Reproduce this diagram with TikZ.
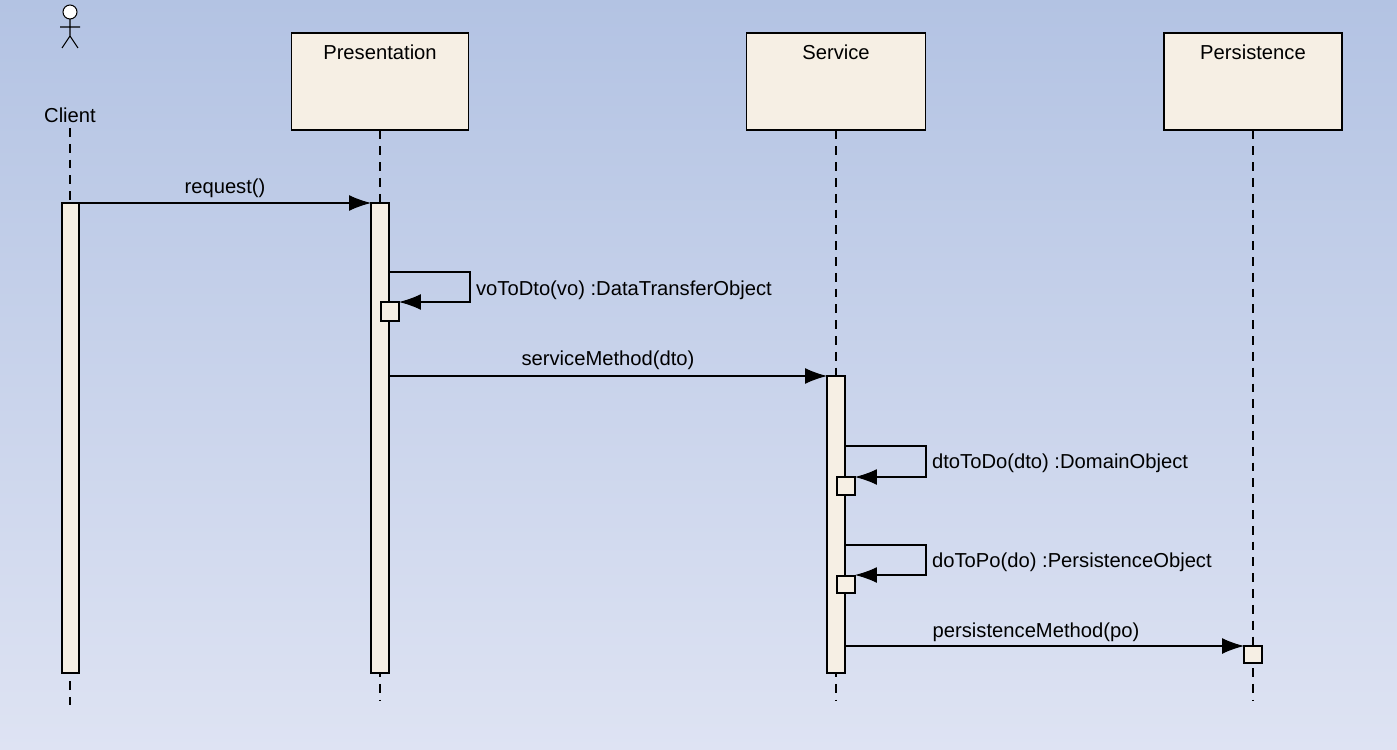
\documentclass[tikz,border=0pt]{standalone}
\usepackage{fontspec}
\setmainfont{Liberation Sans}
\usetikzlibrary{arrows.meta}
\definecolor{bgtop}{HTML}{B3C3E3}
\definecolor{bgbot}{HTML}{DEE3F3}
\definecolor{cream}{HTML}{F6EFE4}
\tikzset{
  lane/.style={draw=black, fill=cream, line width=0.6pt},
  act/.style={draw=black, fill=cream, line width=0.6pt},
  life/.style={dash pattern=on 5pt off 4pt, line width=0.6pt},
  msg/.style={line width=0.6pt, -{Latex[length=12.5pt,width=9pt]}},
  lbl/.style={font=\fontsize{11.5}{13}\selectfont, inner sep=1pt}
}
\begin{document}
\begin{tikzpicture}[x=0.02cm,y=-0.02cm]
\shade[top color=bgtop, bottom color=bgbot] (0,0) rectangle (1397,750);
\useasboundingbox (0,0) rectangle (1397,750);
% client actor
\draw[fill=white, line width=0.6pt] (70,12) circle (7);
\draw[line width=0.6pt] (70,19) -- (70,36) (60,27) -- (80,27) (62,48) -- (70,36) -- (78,48);
\node[lbl] (client) at (70,115) {Client};
% lifelines
\coordinate (c1) at (70,128); \coordinate (c2) at (70,705);
\draw[life] (c1) -- (c2);
\node[lane, minimum width=177*0.02cm, minimum height=97*0.02cm] (pres) at (380,81.5) {};
\node[lbl] at (380,52) {Presentation};
\node[lane, minimum width=179*0.02cm, minimum height=97*0.02cm] (serv) at (836,81.5) {};
\node[lbl] at (836,52) {Service};
\node[lane, minimum width=178*0.02cm, minimum height=97*0.02cm] (pers) at (1253,81.5) {};
\node[lbl] at (1253,52) {Persistence};
\coordinate (p2) at (380,700); \coordinate (s2) at (836,700); \coordinate (q2) at (1253,700);
\draw[life] (pres.south) -- (p2);
\draw[life] (serv.south) -- (s2);
\draw[life] (pers.south) -- (q2);
% activations
\draw[act] (62,203) rectangle (79,673);
\draw[act] (371,203) rectangle (389,673);
\draw[act] (827,376) rectangle (845,673);
\draw[act] (381,302) rectangle (399,321);
\draw[act] (837,477) rectangle (855,495);
\draw[act] (837,576) rectangle (855,593);
\draw[act] (1244,646) rectangle (1262,663);
% messages
\coordinate (m1a) at (79,203); \coordinate (m1b) at (371,203);
\draw[msg] (m1a) -- (m1b);
\node[lbl] at (225,188) {request()};
\coordinate (m2a) at (389,272); \coordinate (m2b) at (399,302);
\draw[msg] (m2a) -- (470,272) -- (470,302) -- (m2b);
\node[lbl, anchor=west] at (474,290) {voToDto(vo) :DataTransferObject};
\coordinate (m3a) at (389,376); \coordinate (m3b) at (827,376);
\draw[msg] (m3a) -- (m3b);
\node[lbl] at (608,360) {serviceMethod(dto)};
\coordinate (m4a) at (845,446); \coordinate (m4b) at (855,477);
\draw[msg] (m4a) -- (926,446) -- (926,477) -- (m4b);
\node[lbl, anchor=west] at (930,463) {dtoToDo(dto) :DomainObject};
\coordinate (m5a) at (845,545); \coordinate (m5b) at (855,575);
\draw[msg] (m5a) -- (926,545) -- (926,575) -- (m5b);
\node[lbl, anchor=west] at (930,562) {doToPo(do) :PersistenceObject};
\coordinate (m6a) at (845,646); \coordinate (m6b) at (1244,646);
\draw[msg] (m6a) -- (m6b);
\node[lbl] at (1036,632) {persistenceMethod(po)};
\end{tikzpicture}
\end{document}
